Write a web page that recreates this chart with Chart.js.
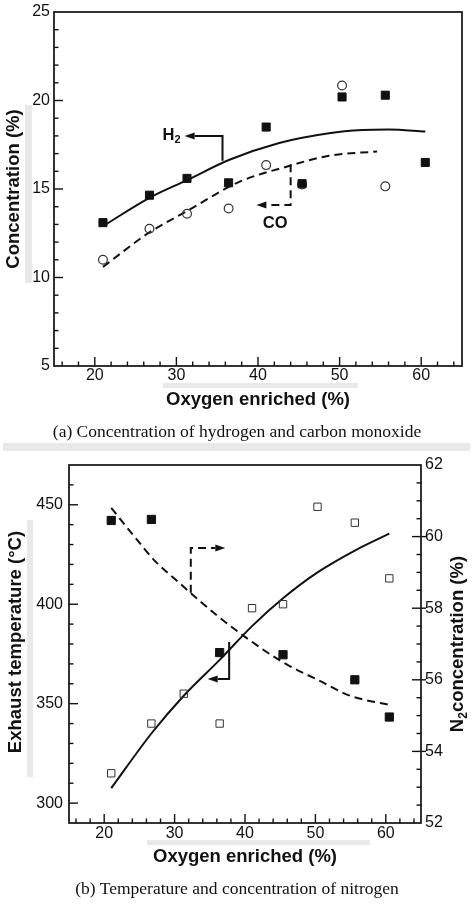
<!DOCTYPE html>
<html>
<head>
<meta charset="utf-8">
<script src="https://cdn.jsdelivr.net/npm/chart.js@4.4.1/dist/chart.umd.min.js"></script>
<style>
  body { margin: 0; background: #fff; width: 474px; height: 906px; position: relative; overflow: hidden; }
  canvas { position: absolute; left: 0; top: 0; }
  .cap { position: absolute; left: 0; width: 474px; text-align: center; font-family: "Liberation Serif", serif; font-size: 17.5px; line-height: 20px; color: #111; }
  .band { position: absolute; background: #e9e9e9; }
</style>
</head>
<body>
<div class="band" style="left:25px;top:105px;width:7px;height:178px"></div>
<div class="band" style="left:163px;top:383px;width:195px;height:5px"></div>
<div class="band" style="left:3px;top:443px;width:467px;height:8px"></div>
<div class="band" style="left:27px;top:520px;width:6px;height:257px"></div>
<div class="band" style="left:147px;top:840px;width:223px;height:5px"></div>

<canvas id="chartB" width="474" height="906"></canvas>
<canvas id="chartA" width="474" height="906"></canvas>

<div class="cap" style="top:421px">(a) Concentration of hydrogen and carbon monoxide</div>
<div class="cap" style="top:878px">(b) Temperature and concentration of nitrogen</div>

<script>
const FONT = '"Liberation Sans", Arial, sans-serif';

// (a) hydrogen / carbon monoxide
const oxygen = [21, 26.7, 31.3, 36.4, 41, 45.4, 50.3, 55.6, 60.5];
const h2Measured = [13.1, 14.65, 15.6, 15.35, 18.5, 15.3, 20.2, 20.3, 16.5];
const coOxygen = [21, 26.7, 31.3, 36.4, 41, 45.4, 50.3, 55.6];
const coMeasured = [11.0, 12.75, 13.6, 13.9, 16.35, 15.25, 20.85, 15.15];
const h2FitX = [21, 26.7, 31.3, 36.5, 42.6, 48.7, 52.8, 56, 60.5];
const h2Fit = [12.9, 14.5, 15.5, 16.65, 17.6, 18.15, 18.33, 18.36, 18.25];
const coFitX = [21, 26.7, 31.3, 37.7, 43.8, 48.7, 54.6];
const coFit = [10.6, 12.55, 13.75, 15.4, 16.3, 16.88, 17.12];
const xTicks = [20, 30, 40, 50, 60];
const concTicks = [5, 10, 15, 20, 25];

// (b) exhaust temperature / nitrogen
const tempMeasured = [315, 340, 355, 340, 398, 400, 449, 441, 413];
const tempFit = [307.5, 335, 354, 372, 389, 403, 416, 427, 435.5];
const n2Oxygen = [21, 26.7, 36.4, 45.4, 55.6, 60.5];
const n2Measured = [60.45, 60.48, 56.76, 56.7, 56.0, 54.96];
const n2FitX = [21, 24.5, 27.3, 30.6, 33, 36, 40, 45.3, 50.3, 55, 60.5];
const n2Fit = [60.8, 59.95, 59.3, 58.72, 58.3, 57.8, 57.2, 56.5, 56.0, 55.55, 55.3];
const tempTicks = [300, 350, 400, 450];
const n2Ticks = [52, 54, 56, 58, 60, 62];

const pts = (xs, ys) => xs.map((x, i) => ({ x, y: ys[i] }));

function setTicks(list) {
  return s => { s.ticks = list.map(v => ({ value: v })); };
}

function tickFont(size) {
  return { family: FONT, size, lineHeight: 1 };
}

function drawArrow(ctx, path, dash) {
  ctx.save();
  ctx.strokeStyle = '#111';
  ctx.fillStyle = '#111';
  ctx.lineWidth = 2;
  ctx.setLineDash(dash || []);
  const n = path.length;
  const [ex, ey] = path[n - 1];
  const [px, py] = path[n - 2];
  const a = Math.atan2(ey - py, ex - px);
  const hl = 10, hw = 3.5;
  ctx.beginPath();
  ctx.moveTo(path[0][0], path[0][1]);
  for (let i = 1; i < n - 1; i++) ctx.lineTo(path[i][0], path[i][1]);
  ctx.lineTo(ex - hl * Math.cos(a), ey - hl * Math.sin(a));
  ctx.stroke();
  ctx.setLineDash([]);
  ctx.beginPath();
  ctx.moveTo(ex, ey);
  ctx.lineTo(ex - hl * Math.cos(a) - hw * Math.sin(a), ey - hl * Math.sin(a) + hw * Math.cos(a));
  ctx.lineTo(ex - hl * Math.cos(a) + hw * Math.sin(a), ey - hl * Math.sin(a) - hw * Math.cos(a));
  ctx.closePath();
  ctx.fill();
  ctx.restore();
}

// text with a subscript "2" after the first part, optionally rotated
function subText(ctx, x, y, head, tail, size, rot) {
  ctx.save();
  ctx.translate(x, y);
  if (rot) ctx.rotate(rot);
  ctx.fillStyle = '#111';
  ctx.textBaseline = 'middle';
  const big = 'bold ' + size + 'px ' + FONT;
  const small = 'bold ' + Math.round(size * 0.65) + 'px ' + FONT;
  ctx.font = big;
  const w1 = ctx.measureText(head).width;
  const w3 = ctx.measureText(tail).width;
  ctx.font = small;
  const w2 = ctx.measureText('2').width;
  let cx = -(w1 + w2 + w3) / 2;
  ctx.textAlign = 'left';
  ctx.font = big;
  ctx.fillText(head, cx, 0);
  cx += w1;
  ctx.font = small;
  ctx.fillText('2', cx, size * 0.3);
  cx += w2;
  ctx.font = big;
  ctx.fillText(tail, cx, 0);
  ctx.restore();
}

function title(ctx, text, x, y, rot) {
  ctx.save();
  ctx.translate(x, y);
  if (rot) ctx.rotate(rot);
  ctx.fillStyle = '#111';
  ctx.font = 'bold 18.5px ' + FONT;
  ctx.textAlign = 'center';
  ctx.textBaseline = 'middle';
  ctx.fillText(text, 0, 0);
  ctx.restore();
}

// inward tick marks, minor ones every `step`
function ticksX(ctx, scale, area, from, to, step, major) {
  for (let v = from; v <= to + 1e-9; v += step) {
    const p = scale.getPixelForValue(v);
    const isMajor = major.some(m => Math.abs(m - v) < 1e-6);
    ctx.beginPath();
    ctx.moveTo(p, area.bottom);
    ctx.lineTo(p, area.bottom - (isMajor ? 9 : 4.5));
    ctx.stroke();
  }
}
function ticksY(ctx, scale, x, dir, from, to, step, major, out) {
  for (let v = from; v <= to + 1e-9; v += step) {
    const p = scale.getPixelForValue(v);
    const isMajor = major.some(m => Math.abs(m - v) < 1e-6);
    ctx.beginPath();
    ctx.moveTo(x - (isMajor ? out : 0) * dir, p);
    ctx.lineTo(x + dir * (isMajor ? 9 : 4.5), p);
    ctx.stroke();
  }
}

const framePluginA = {
  id: 'frameA',
  afterDraw(chart) {
    const { ctx, chartArea: a, scales: { x, y } } = chart;
    ctx.save();
    ctx.strokeStyle = '#111';
    ctx.lineWidth = 1.7;
    ctx.strokeRect(a.left, a.top, a.right - a.left, a.bottom - a.top);
    ctx.lineWidth = 1.4;
    ticksX(ctx, x, a, 16, 64, 2, xTicks);
    ticksY(ctx, y, a.left, 1, 6, 24, 1, concTicks, 0);
    ctx.restore();

    const P = (px, py) => [x.getPixelForValue(px), y.getPixelForValue(py)];
    drawArrow(ctx, [P(35.65, 16.6), P(35.65, 18.0), P(31.0, 18.0)]);
    drawArrow(ctx, [P(44.0, 16.4), P(44.0, 14.1), P(39.8, 14.1)], [8, 5]);
    const h = P(29.4, 18.05);
    subText(ctx, h[0], h[1], 'H', '', 16.5, 0);
    const c = P(42.1, 13.05);
    ctx.save();
    ctx.font = 'bold 16.5px ' + FONT;
    ctx.fillStyle = '#111';
    ctx.textAlign = 'center';
    ctx.textBaseline = 'middle';
    ctx.fillText('CO', c[0], c[1]);
    ctx.restore();

    title(ctx, 'Concentration (%)', 14, (a.top + a.bottom) / 2, -Math.PI / 2);
    title(ctx, 'Oxygen enriched (%)', (a.left + a.right) / 2, a.bottom + 34);
  }
};

const framePluginB = {
  id: 'frameB',
  afterDraw(chart) {
    const { ctx, chartArea: a, scales: { x, y, y2 } } = chart;
    ctx.save();
    ctx.strokeStyle = '#111';
    ctx.lineWidth = 1.7;
    ctx.strokeRect(a.left, a.top, a.right - a.left, a.bottom - a.top);
    ctx.lineWidth = 1.4;
    ticksX(ctx, x, a, 16, 64, 2, xTicks);
    ticksY(ctx, y, a.left, 1, 300, 460, 10, tempTicks, 0);
    ticksY(ctx, y2, a.right, -1, 52.5, 61.5, 0.5, n2Ticks, 5);
    ctx.restore();

    const PL = (px, py) => [x.getPixelForValue(px), y.getPixelForValue(py)];
    const PR = (px, py) => [x.getPixelForValue(px), y2.getPixelForValue(py)];
    drawArrow(ctx, [PR(32.3, 58.43), PR(32.3, 59.68), PR(37.2, 59.68)], [8, 5]);
    drawArrow(ctx, [PL(37.75, 381), PL(37.75, 362.4), PL(34.7, 362.4)]);

    title(ctx, 'Exhaust temperature (\u00B0C)', 16, 642, -Math.PI / 2);
    subText(ctx, 458, 644, 'N', 'concentration (%)', 18.5, -Math.PI / 2);
    title(ctx, 'Oxygen enriched (%)', (a.left + a.right) / 2, a.bottom + 34);
  }
};

const markerFilled = (data, r, yAxisID) => ({
  data, showLine: false, pointStyle: 'rect', pointRadius: r,
  backgroundColor: '#111', borderColor: '#111', borderWidth: 1, yAxisID: yAxisID || 'y'
});
const markerOpen = (data, style, r, bw) => ({
  data, showLine: false, pointStyle: style, pointRadius: r,
  backgroundColor: 'rgba(255,255,255,0)', borderColor: '#333', borderWidth: bw, yAxisID: 'y'
});
const fitLine = (data, dash, yAxisID) => ({
  data, showLine: true, pointRadius: 0, borderColor: '#111', borderWidth: 2,
  borderDash: dash, tension: 0.4, cubicInterpolationMode: 'monotone', yAxisID: yAxisID || 'y'
});

const common = {
  responsive: false,
  animation: false,
  events: [],
  plugins: { legend: { display: false }, tooltip: { enabled: false } }
};

const axisGrid = { display: false, drawTicks: false, tickLength: 0 };

new Chart(document.getElementById('chartA'), {
  type: 'scatter',
  data: {
    datasets: [
      markerFilled(pts(oxygen, h2Measured), 5.7),
      markerOpen(pts(coOxygen, coMeasured), 'circle', 4.4, 1.2),
      fitLine(pts(h2FitX, h2Fit), []),
      fitLine(pts(coFitX, coFit), [8, 5])
    ]
  },
  options: {
    ...common,
    layout: { padding: { left: 0, top: 9, right: 12, bottom: 906 - 366 - 30 } },
    scales: {
      x: {
        type: 'linear', min: 15, max: 65,
        grid: axisGrid, border: { display: false },
        afterBuildTicks: setTicks(xTicks),
        afterFit: s => { s.height = 30; },
        ticks: { font: tickFont(16), color: '#111', padding: 2, maxRotation: 0, autoSkip: false }
      },
      y: {
        type: 'linear', min: 5, max: 25,
        grid: axisGrid, border: { display: false },
        afterBuildTicks: setTicks(concTicks),
        afterFit: s => { s.width = 54; },
        ticks: { font: tickFont(16), color: '#111', padding: 4, autoSkip: false }
      }
    }
  },
  plugins: [framePluginA]
});

new Chart(document.getElementById('chartB'), {
  type: 'scatter',
  data: {
    datasets: [
      markerFilled(pts(n2Oxygen, n2Measured), 5.8, 'y2'),
      markerOpen(pts(oxygen, tempMeasured), 'rect', 5.2, 1),
      fitLine(pts(oxygen, tempFit), [], 'y'),
      fitLine(pts(n2FitX, n2Fit), [8, 5], 'y2')
    ]
  },
  options: {
    ...common,
    layout: { padding: { left: 0, top: 465, right: 0, bottom: 906 - 823 - 30 } },
    scales: {
      x: {
        type: 'linear', min: 15, max: 65,
        grid: axisGrid, border: { display: false },
        afterBuildTicks: setTicks(xTicks),
        afterFit: s => { s.height = 30; },
        ticks: { font: tickFont(16), color: '#111', padding: 3, maxRotation: 0, autoSkip: false }
      },
      y: {
        type: 'linear', position: 'left', min: 290, max: 470,
        grid: axisGrid, border: { display: false },
        afterBuildTicks: setTicks(tempTicks),
        afterFit: s => { s.width = 69; },
        ticks: { font: tickFont(16), color: '#111', padding: 6, autoSkip: false }
      },
      y2: {
        type: 'linear', position: 'right', min: 52, max: 62,
        grid: axisGrid, border: { display: false },
        afterBuildTicks: setTicks(n2Ticks),
        afterFit: s => { s.width = 53; },
        ticks: { font: tickFont(16), color: '#111', padding: 4, autoSkip: false }
      }
    }
  },
  plugins: [framePluginB]
});
</script>
</body>
</html>
